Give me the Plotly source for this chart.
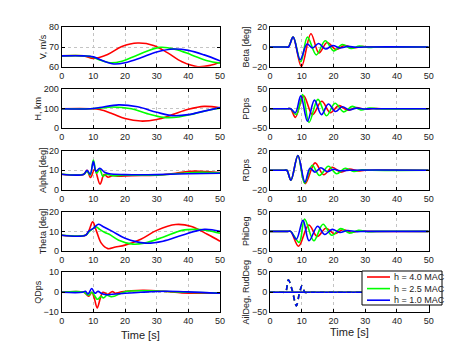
import plotly.graph_objects as go
from plotly.subplots import make_subplots

# ---------------- data (key points) ----------------
# V, m/s
V_RED_T = [0, 7, 10, 14.5, 19, 24, 29, 33.5, 38, 43, 47, 50]
V_RED = [65.5, 65.5, 64.2, 66.2, 70.2, 72, 70.8, 67, 62.5, 60, 60.7, 62.3]
V_GRN_T = [0, 7, 10, 12, 15.3, 19, 24, 31, 36, 41, 46, 50]
V_GRN = [65.5, 65.5, 64.8, 63.4, 62, 62.8, 66, 69.8, 68.8, 66, 63, 61.8]
V_BLU_T = [0, 7, 10, 13, 16.5, 20, 25, 30, 35.5, 40, 45, 50]
V_BLU = [65.5, 65.5, 65, 63, 61.4, 62, 64.5, 67.5, 69, 68.3, 66, 63]

# H, km
H_RED_T = [0, 9, 12, 16, 20, 25, 30, 35, 40, 45, 50]
H_RED = [100, 100, 96, 75, 50, 37, 45, 70, 97, 112, 105]
H_GRN_T = [0, 9, 12, 16, 22, 27, 32, 37, 42, 47, 50]
H_GRN = [100, 100, 103, 109, 100, 75, 56, 58, 75, 95, 103]
H_BLU_T = [0, 9, 12, 18, 24, 30, 35, 40, 45, 50]
H_BLU = [100, 100, 106, 120, 110, 82, 65, 70, 88, 106]

# Alpha [deg]
A_RED_T = [0, 7, 8, 9.1, 10.4, 12.1, 13.4, 14.6, 16, 18, 22, 30, 36, 41, 46, 50]
A_RED = [8, 8, 10, 6.3, 10.5, 3, 7.8, 6.5, 7.2, 7, 7.3, 7.5, 8.5, 9.5, 9.3, 8.8]
A_GRN_T = [0, 7, 8, 9, 10, 11, 12, 13, 14, 16, 20, 30, 38, 44, 50]
A_GRN = [8, 8, 9.5, 7.5, 15.2, 8.5, 10.5, 7, 8, 7.3, 7.5, 7.5, 8.5, 9, 8.7]
A_BLU_T = [0, 7, 8, 9, 10, 10.8, 12, 13.5, 15, 20, 25, 30, 40, 50]
A_BLU = [8, 8, 10, 8, 14.4, 9.5, 11, 9, 8.2, 7.8, 7.7, 7.8, 8.2, 8.5]

# Theta [deg]
T_RED_T = [0, 7.5, 8.5, 9.8, 11, 12.5, 14.6, 17, 20, 25, 30, 36, 41, 46, 50]
T_RED = [8, 8, 10, 14.8, 10, 4, 1.2, 2, 3, 6, 10.5, 13.5, 12.5, 8.5, 5]
T_GRN_T = [0, 7.5, 8.5, 10, 11, 12, 13.5, 15, 18, 22.5, 26, 32, 38, 42, 46, 50]
T_GRN = [8, 8, 9.5, 11.5, 12.2, 11, 9.5, 8.5, 5.5, 3.5, 4, 7, 10.5, 11, 10.5, 9]
T_BLU_T = [0, 7.5, 8.5, 10, 11.6, 13, 16, 20, 26.5, 32, 38, 45, 50]
T_BLU = [8, 8, 10, 11.5, 13.6, 12.5, 10, 6.5, 4, 5, 8, 11, 10]

# QDps
Q_RED_T = [0, 7, 8.5, 9.5, 10.3, 11.2, 12.2, 13, 14.5, 16, 17, 19, 22, 26, 32, 38, 43, 50]
Q_RED = [0, 0, -2, 0, -3, -7.8, -3, 0, -1, 0.4, -0.5, 0.3, 0.8, 1, 0.5, -0.3, -0.5, -0.3]
Q_GRN_T = [0, 7, 8.5, 9.5, 11.3, 12.4, 13.2, 14.3, 15.6, 16.6, 18, 20, 26, 32, 40, 50]
Q_GRN = [0, 0, -1.5, 0, -3.5, -2, -2.8, -1.5, -2.2, -2, -1, 0.3, 0.8, 0.5, 0, -0.3]
Q_BLU_T = [0, 6.5, 7.5, 8.3, 9.5, 10.5, 11.5, 12.5, 14, 16, 20, 25, 33, 40, 50]
Q_BLU = [0, 0, 0.5, -1, 1.9, -0.5, 0.5, -0.5, -1.2, -1, -0.5, 0, 0.5, 0.2, -0.5]

# Beta [deg]
B_RED_T = [0, 5, 5.8, 7.3, 9.9, 12.9, 15.4, 18, 20.8, 23.5, 26.2, 29, 32, 50]
B_RED = [0, 0, 0, 10, -20, 13.5, -6, 4.5, -2.5, 1.5, -0.8, 0.4, 0, 0]
B_GRN_T = [0, 5, 5.8, 7.3, 9.7, 11.8, 14.6, 17.4, 20.1, 22.8, 25.5, 28.2, 31, 34, 50]
B_GRN = [0, 0, 0, 10, -15, 10, -8, 6.3, -4, 2.5, -1.5, 1, -0.4, 0, 0]
B_BLU_T = [0, 5, 5.8, 7.3, 9.5, 11.7, 13.4, 15.3, 17.5, 19.8, 22, 24.5, 27, 30, 50]
B_BLU = [0, 0, 0, 10, -13, 3, -1, 3.5, -2, 1.5, -1, 0.6, -0.3, 0, 0]

# PDps
P_RED_T = [0, 5.5, 6.5, 8, 10.6, 13.4, 16.3, 19, 21.7, 24.4, 27.1, 29.8, 32.5, 35, 50]
P_RED = [0, 0, 0, -22, 33, -15, 19, -10, 8, -4, 3, -1.2, 0.5, 0, 0]
P_GRN_T = [0, 5.5, 6.5, 8.3, 10.3, 12.3, 15.1, 17.8, 20.5, 23.2, 25.9, 28.6, 31.3, 34, 50]
P_GRN = [0, 0, 0, -15, 36, -35, 24, -18, 14, -8, 6, -3, 1.5, 0, 0]
P_BLU_T = [0, 5.5, 6.5, 8, 9.7, 11.8, 14, 16.2, 18.4, 20.6, 22.8, 25, 27.2, 29.5, 32, 50]
P_BLU = [0, 0, 0, -10, 33, -32, 22, -15, 12, -7, 5, -3, 1.5, -0.5, 0, 0]

# RDps
R_RED_T = [0, 4.5, 5.3, 6.6, 8.8, 11.1, 14.2, 16.9, 19.6, 22.3, 25, 27.7, 30, 50]
R_RED = [0, 0, 0, -10, 15, -13.5, 7.5, -4.5, 3, -2, 1.2, -0.6, 0, 0]
R_GRN_T = [0, 4.5, 5.3, 6.6, 8.8, 10.9, 13.3, 15.6, 18.4, 21, 23.7, 26.4, 29, 32, 50]
R_GRN = [0, 0, 0, -10, 15, -13, 5, -5.3, 4, -3.5, 2, -1.2, 0.5, 0, 0]
R_BLU_T = [0, 4.5, 5.3, 6.6, 8.8, 11, 12.6, 14.2, 16, 18, 20, 22, 25, 50]
R_BLU = [0, 0, 0, -10, 15, -12, 2, -2, 2.5, -1.5, 1, -0.5, 0, 0]

# PhiDeg
F_RED_T = [0, 5.5, 6.5, 9, 12.2, 14.9, 17.6, 20.3, 23, 25.7, 28.4, 31, 50]
F_RED = [0, 0, 0, -38, 16, -13, 8, -6, 4, -2.5, 1.5, 0, 0]
F_GRN_T = [0, 5.5, 6.5, 9.2, 10.9, 13.8, 16.7, 19.5, 22.3, 25.1, 27.9, 30.7, 33.5, 50]
F_GRN = [0, 0, 0, -28, 31, -24, 18, -10, 7, -4.5, 2.5, -1, 0, 0]
F_BLU_T = [0, 5.5, 6.5, 8.3, 10.4, 12.3, 15, 17.2, 19.6, 22, 24.4, 27, 30, 50]
F_BLU = [0, 0, 0, -20, 28, -24, 13, -8, 5, -3, 2, -0.5, 0, 0]

# AilDeg (solid) and RudDeg (dashed)
AIL_T = [0, 50]
AIL = [0, 0]
RUD_T = [0, 4.2, 4.9, 5.8, 7, 8.3, 9.2, 10.1, 11, 12, 50]
RUD = [0, 0, 0, 31, 5, -34, -5, 16, 0, 0, 0]

X_TICKS = [0, 10, 20, 30, 40, 50]
LEGEND_LABELS = ["h = 4.0 MAC", "h = 2.5 MAC", "h = 1.0 MAC"]
COLORS = ["#ff0000", "#00ff00", "#0000ff"]

# ---------------- figure ----------------
FONT = "Liberation Sans, Arial, sans-serif"
W, H = 474, 355

fig = make_subplots(rows=5, cols=2)

panels = [
    (1, 1, "V, m/s", [60, 80], [60, 70, 80],
     [(V_RED_T, V_RED), (V_GRN_T, V_GRN), (V_BLU_T, V_BLU)]),
    (2, 1, "H, km", [0, 200], [0, 100, 200],
     [(H_RED_T, H_RED), (H_GRN_T, H_GRN), (H_BLU_T, H_BLU)]),
    (3, 1, "Alpha [deg]", [0, 20], [0, 10, 20],
     [(A_RED_T, A_RED), (A_GRN_T, A_GRN), (A_BLU_T, A_BLU)]),
    (4, 1, "Theta [deg]", [0, 20], [0, 10, 20],
     [(T_RED_T, T_RED), (T_GRN_T, T_GRN), (T_BLU_T, T_BLU)]),
    (5, 1, "QDps", [-10, 10], [-10, 0, 10],
     [(Q_RED_T, Q_RED), (Q_GRN_T, Q_GRN), (Q_BLU_T, Q_BLU)]),
    (1, 2, "Beta [deg]", [-20, 20], [-20, 0, 20],
     [(B_RED_T, B_RED), (B_GRN_T, B_GRN), (B_BLU_T, B_BLU)]),
    (2, 2, "PDps", [-50, 50], [-50, 0, 50],
     [(P_RED_T, P_RED), (P_GRN_T, P_GRN), (P_BLU_T, P_BLU)]),
    (3, 2, "RDps", [-20, 20], [-20, 0, 20],
     [(R_RED_T, R_RED), (R_GRN_T, R_GRN), (R_BLU_T, R_BLU)]),
    (4, 2, "PhiDeg", [-50, 50], [-50, 0, 50],
     [(F_RED_T, F_RED), (F_GRN_T, F_GRN), (F_BLU_T, F_BLU)]),
    (5, 2, "AilDeg, RudDeg", [-50, 50], [-50, 0, 50], None),
]

x_dom = {1: [61.7 / W, 220.0 / W], 2: [270.0 / W, 428.7 / W]}
row_px = {1: (27.3, 66.7), 2: (89.2, 128.3), 3: (150.5, 190.0),
          4: (211.7, 251.0), 5: (272.3, 312.3)}

axis_common = dict(
    showline=True, linecolor="#000000", linewidth=1, mirror="ticks",
    ticks="inside", ticklen=3, tickcolor="#000000", tickwidth=1,
    showgrid=True, gridcolor="#c4c4c4", griddash="dot", gridwidth=1,
    zeroline=False, automargin=False,
    tickfont=dict(family=FONT, size=9, color="#222222"),
)

annotations = []
for (r, c, title, yr, yt, series) in panels:
    if series is not None:
        for (t, v), col in zip(series, COLORS):
            fig.add_trace(go.Scatter(
                x=t, y=v, mode="lines", showlegend=False, hoverinfo="skip",
                line=dict(color=col, width=1.6, shape="spline", smoothing=1.0)),
                row=r, col=c)
    else:
        for col in COLORS:
            fig.add_trace(go.Scatter(
                x=AIL_T, y=AIL, mode="lines", showlegend=False, hoverinfo="skip",
                line=dict(color=col, width=1.6)), row=r, col=c)
        for col in COLORS:
            fig.add_trace(go.Scatter(
                x=RUD_T, y=RUD, mode="lines", showlegend=False, hoverinfo="skip",
                line=dict(color=col, width=1.6, shape="spline", smoothing=1.0,
                          dash="5px,4px")), row=r, col=c)
    idx = (r - 1) * 2 + c
    xa = "xaxis" if idx == 1 else f"xaxis{idx}"
    ya = "yaxis" if idx == 1 else f"yaxis{idx}"
    top, bot = row_px[r]
    xt = dict(range=[0, 50], tickvals=X_TICKS, domain=x_dom[c], **axis_common)
    yt_d = dict(range=yr, tickvals=yt, domain=[1 - bot / H, 1 - top / H],
                title=dict(text=title, font=dict(family=FONT, size=9, color="#222222"),
                           standoff=0),
                **axis_common)
    fig.layout[xa].update(xt)
    fig.layout[ya].update(yt_d)
    if r == 5:
        cx = (x_dom[c][0] + x_dom[c][1]) / 2
        ty = 335 if c == 1 else 332
        annotations.append(dict(xref="paper", yref="paper", x=cx, y=1 - ty / H,
                                xanchor="center", yanchor="middle", text="Time [s]",
                                showarrow=False, borderpad=0,
                                font=dict(family=FONT, size=11, color="#222222")))

# ---------------- legend box (drawn) ----------------
lx0, lx1, ly0, ly1 = 362, 442, 271, 305
shapes = [dict(type="rect", xref="paper", yref="paper",
               x0=lx0 / W, x1=lx1 / W, y0=1 - ly1 / H, y1=1 - ly0 / H,
               line=dict(color="#000000", width=1), fillcolor="#ffffff", layer="above")]
for i, (lab, col) in enumerate(zip(LEGEND_LABELS, COLORS)):
    yy = 277 + i * 11.6
    shapes.append(dict(type="line", xref="paper", yref="paper",
                       x0=367 / W, x1=390 / W, y0=1 - yy / H, y1=1 - yy / H,
                       line=dict(color=col, width=1.6), layer="above"))
    annotations.append(dict(xref="paper", yref="paper", x=393 / W, y=1 - yy / H,
                            xanchor="left", yanchor="middle", text=lab, showarrow=False,
                            borderpad=0,
                            font=dict(family=FONT, size=9, color="#222222")))

fig.update_layout(
    width=W, height=H, autosize=False, template="none",
    margin=dict(l=0, r=0, t=0, b=0),
    paper_bgcolor="#ffffff", plot_bgcolor="#ffffff",
    shapes=shapes, annotations=annotations, showlegend=False,
    font=dict(family=FONT, size=9, color="#222222"),
)

fig.write_html("out.html",
               config={"displayModeBar": False, "staticPlot": True},
               post_script="document.body.style.margin='0px';"
                           "document.body.style.overflow='hidden';")
